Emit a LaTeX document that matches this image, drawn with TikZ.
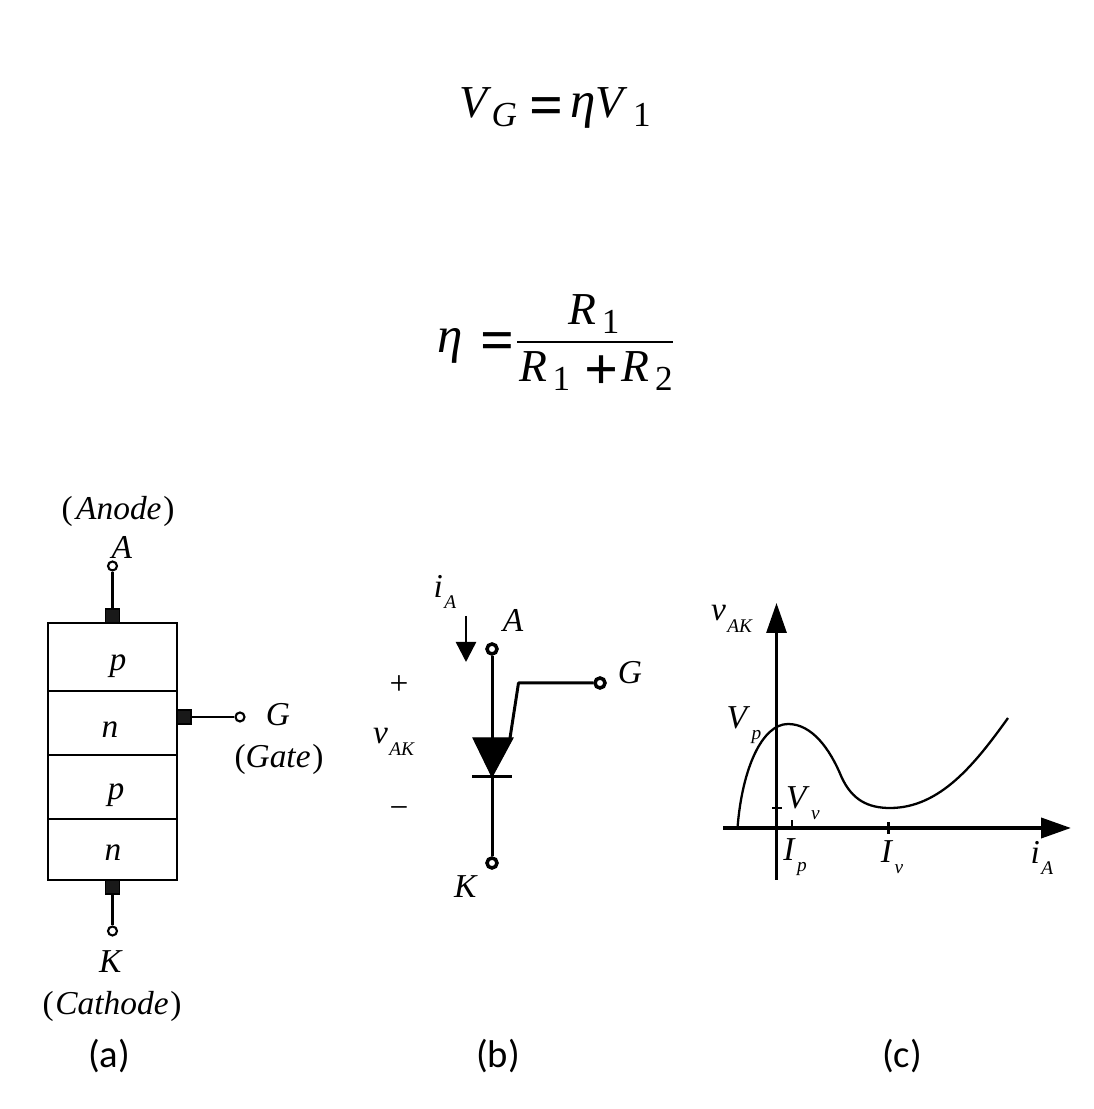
\documentclass[tikz,border=0pt]{standalone}
\usepackage{fontspec}
\setmainfont{Liberation Serif}
\newfontfamily\capfont{Carlito}
\usetikzlibrary{positioning}
\usetikzlibrary{arrows.meta}

\newcommand{\withsub}[2]{\textit{#1}\raisebox{-.75ex}{\fontsize{5.5}{6}\selectfont\kern.4pt\textit{#2}}}
\newcommand{\eqsub}[2]{\textit{#1}\raisebox{-.42ex}{\fontsize{10}{12}\selectfont #2}}
\newcommand{\opneg}[1]{\raisebox{-2pt}{\fontsize{17}{18}\selectfont\textbf{#1}}}
\newcommand{\etasym}{{\fontsize{14.5}{18}\selectfont\textit{η}}}

\tikzset{
    layerbox/.style={draw, line width=.45pt, inner sep=0, outer sep=0, minimum width=1.29cm},
    contact/.style={draw, fill=black!90, inner sep=0, outer sep=0, minimum size=.14cm},
    term/.style={draw, circle, fill=white, inner sep=0, minimum size=.09cm, line width=.6pt},
    bigterm/.style={draw, circle, fill=white, inner sep=0, minimum size=.1cm, line width=1pt},
    lbl/.style={inner sep=0, font=\fontsize{9.5}{11}\selectfont},
    eqn/.style={inner sep=0, anchor=base, font=\fontsize{13}{16}\selectfont},
    capt/.style={inner sep=0, font=\capfont\fontsize{11}{13}\selectfont},
    wire/.style={line width=.85pt},
    axisline/.style={line width=.85pt, -{Triangle[length=.3cm,width=.2cm]}}
}

\begin{document}
\begin{tikzpicture}
    \useasboundingbox (0,0) rectangle (10.93,11.09);

    % equations
    \node (eq1) at (5.55,9.91) [eqn] {\eqsub{V}{\textit{G}}\kern3.5pt\opneg{=}\kern2pt\etasym\eqsub{V}{\kern1.5pt 1}};
    \node (eta) at (4.76,7.56) [eqn] {\etasym\kern5pt\opneg{=}};
    \node (num) at (5.94,7.84) [eqn] {\eqsub{R}{\kern1.5pt 1}};
    \node (den) at (5.96,7.27) [eqn] {\eqsub{R}{\kern1.5pt 1}\kern4pt\opneg{+}\kern1pt\eqsub{R}{\kern1.5pt 2}};
    \coordinate (barl) at (5.17,7.67);
    \coordinate (barr) at (6.73,7.67);
    \draw[line width=.5pt] (barl) -- (barr);

    % (a) layers
    \node (p1) at (1.125,4.52) [layerbox, minimum height=.68cm] {};
    \node (n1) [below=0pt of p1, layerbox, minimum height=.64cm] {};
    \node (p2) [below=0pt of n1, layerbox, minimum height=.64cm] {};
    \node (n2) [below=0pt of p2, layerbox, minimum height=.61cm] {};
    \node (lp1) at (1.18,4.43) [lbl] {\textit{p}};
    \node (ln1) at (1.10,3.79) [lbl] {\textit{n}};
    \node (lp2) at (1.16,3.14) [lbl] {\textit{p}};
    \node (ln2) at (1.13,2.56) [lbl] {\textit{n}};
    \node (ca) [above=0pt of p1, contact] {};
    \node (ck) [below=0pt of n2, contact] {};
    \node (cg) at (1.84,3.92) [contact] {};
    \node (ta) at (1.125,5.43) [term] {};
    \node (tk) at (1.125,1.78) [term] {};
    \node (tg) at (2.40,3.92) [term] {};
    \draw[wire] (ta) -- (ca);
    \draw[wire] (tk) -- (ck);
    \draw[line width=.6pt] (cg) -- (tg);
    \node (anode) at (1.18,5.98) [lbl] {(\kern1pt\textit{Anode}\kern.5pt)};
    \node (aa) at (1.22,5.62) [lbl] {\textit{A}};
    \node (ag) at (2.78,3.94) [lbl] {\textit{G}};
    \node (gate) at (2.79,3.50) [lbl] {(\textit{Gate}\kern.5pt)};
    \node (ak) at (1.11,1.47) [lbl] {\textit{K}};
    \node (cathode) at (1.12,1.03) [lbl] {(\kern.5pt\textit{Cathode}\kern.5pt)};
    \node (capa) at (1.09,.53) [capt] {(a)};

    % (b) thyristor symbol
    \node (ba) at (4.92,4.60) [bigterm] {};
    \node (bk) at (4.92,2.46) [bigterm] {};
    \node (bg) at (6.00,4.26) [bigterm] {};
    \coordinate (kink) at (5.185,4.26);
    \coordinate (trir) at (5.13,3.71);
    \coordinate (tril) at (4.73,3.71);
    \coordinate (apex) at (4.92,3.32);
    \coordinate (barw) at (4.72,3.32);
    \coordinate (bare) at (5.12,3.32);
    \coordinate (ifrom) at (4.66,4.93);
    \coordinate (ito) at (4.66,4.47);
    \draw[wire] (ba) -- (bk);
    \draw[fill=black, line width=.3pt] (tril) -- (trir) -- (apex) -- cycle;
    \draw[wire] (barw) -- (bare);
    \draw[wire, line join=round] (5.10,3.71) -- (kink) -- (bg);
    \draw[line width=.7pt, -{Triangle[length=.2cm,width=.2cm]}] (ifrom) -- (ito);
    \node (bi) at (4.45,5.17) [lbl] {\withsub{i}{A}};
    \node (bla) at (5.13,4.89) [lbl] {\textit{A}};
    \node (blg) at (6.30,4.36) [lbl] {\textit{G}};
    \node (plus) at (3.99,4.24) [lbl] {+};
    \node (bv) at (3.94,3.67) [lbl] {\withsub{v}{AK}};
    \node (minus) at (3.99,2.96) [lbl] {\textminus};
    \node (blk) at (4.66,2.22) [lbl] {\textit{K}};
    \node (capb) at (4.98,.53) [capt] {(b)};

    % (c) characteristic
    \coordinate (ybot) at (7.765,2.29);
    \coordinate (ytop) at (7.765,5.06);
    \coordinate (xleft) at (7.23,2.81);
    \coordinate (xright) at (10.71,2.81);
    \draw[axisline] (ybot) -- (ytop);
    \draw[axisline, line width=1.1pt] (xleft) -- (xright);
    \draw[line width=.65pt] (7.375,2.81) .. controls (7.42,3.40) and (7.62,3.85) .. (7.88,3.85)
        .. controls (8.12,3.85) and (8.30,3.60) .. (8.415,3.32)
        .. controls (8.52,3.09) and (8.68,3.01) .. (8.90,3.01)
        .. controls (9.40,3.01) and (9.75,3.45) .. (10.08,3.91);
    \draw[line width=.8pt] (7.72,3.01) -- (7.82,3.01);
    \draw[line width=.5pt] (7.92,2.81) -- (7.92,2.89);
    \draw[line width=.7pt] (8.885,2.75) -- (8.885,2.87);
    \node (cv) at (7.32,4.90) [lbl] {\withsub{v}{AK}};
    \node (vp) at (7.44,3.84) [lbl] {\withsub{V}{p}};
    \node (vv) at (8.03,3.06) [lbl] {\withsub{V}{v}};
    \node (ip) at (7.95,2.52) [lbl] {\withsub{I}{p}};
    \node (iv) at (8.92,2.52) [lbl] {\withsub{I}{v}};
    \node (ci) at (10.42,2.51) [lbl] {\withsub{i}{A}};
    \node (capc) at (9.02,.53) [capt] {(c)};
\end{tikzpicture}
\end{document}
